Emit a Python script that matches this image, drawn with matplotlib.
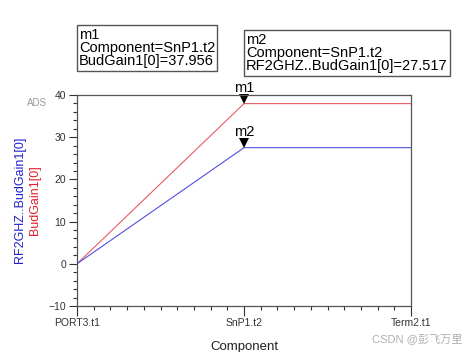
import matplotlib
matplotlib.use("Agg")
import matplotlib.pyplot as plt
from matplotlib.ticker import MultipleLocator
from matplotlib.transforms import offset_copy

plt.rcParams['font.family'] = ['Liberation Sans', 'Noto Sans CJK SC', 'DejaVu Sans']

components = ["PORT3.t1", "SnP1.t2", "Term2.t1"]
bud_gain = [0.0, 37.956, 37.956]
rf2ghz_bud_gain = [0.0, 27.517, 27.517]
marker_labels = ["m1", "m2"]

fig = plt.figure(figsize=(4.74, 3.52), dpi=100)
W, H = 474, 352
ax = fig.add_axes([77 / W, 1 - 306 / H, (411 - 77) / W, (306 - 95) / H])

x = list(range(len(components)))
ax.plot(x, bud_gain, color='#e85a64', lw=0.8)
ax.plot(x, rf2ghz_bud_gain, color='#5050e0', lw=0.8)

ax.set_xlim(0, 2)
ax.set_ylim(-10, 40)
ax.set_xticks(x)
ax.set_xticklabels(components)
ax.xaxis.set_minor_locator(MultipleLocator(0.1))
ax.yaxis.set_major_locator(MultipleLocator(10))
ax.yaxis.set_minor_locator(MultipleLocator(2))
ax.tick_params(axis='both', which='major', direction='out', length=6, width=0.8,
               labelsize=7.5, colors='#333333', pad=2)
ax.tick_params(axis='both', which='minor', direction='out', length=3, width=0.8, colors='#333333')
ax.tick_params(axis='x', which='major', length=7)
for s in ax.spines.values():
    s.set_color('#555555')
    s.set_linewidth(0.9)

# markers
tri_tr = offset_copy(ax.transData, fig=fig, x=0, y=3.2, units='points')
for lab, yv in zip(marker_labels, [bud_gain[1], rf2ghz_bud_gain[1]]):
    ax.plot([1], [yv], marker='v', color='black', markersize=6.5,
            transform=tri_tr, clip_on=False,
            markeredgewidth=0, linestyle='none')
    ax.annotate(lab, xy=(1, yv), xytext=(0, 6.5), textcoords='offset points',
                ha='center', va='bottom', fontsize=10.5, color='black',
                annotation_clip=False)

ax.set_xlabel("Component", fontsize=9.5, color='#222222', labelpad=9)

# y labels
fig.text(20 / W, 1 - 200 / H, "RF2GHZ..BudGain1[0]", rotation=90, color='#2020d0',
         fontsize=9, ha='center', va='center')
fig.text(35 / W, 1 - 200 / H, "BudGain1[0]", rotation=90, color='#e0202a',
         fontsize=9, ha='center', va='center')

fig.text(27 / W, 1 - 103 / H, "ADS", color='#999999', fontsize=7, ha='left', va='center')

# marker readout boxes
box = dict(boxstyle='square,pad=0.15', fc='white', ec='#555555', lw=1)
fig.text(79 / W, 1 - 48 / H,
         "m1\nComponent=SnP1.t2\nBudGain1[0]=%.3f" % bud_gain[1],
         fontsize=10.5, ha='left', va='center', linespacing=0.95, bbox=box)
fig.text(246 / W, 1 - 53 / H,
         "m2\nComponent=SnP1.t2\nRF2GHZ..BudGain1[0]=%.3f" % rf2ghz_bud_gain[1],
         fontsize=10.5, ha='left', va='center', linespacing=0.95, bbox=box)

fig.text(462 / W, 1 - 340 / H, "CSDN @彭飞万里", color='#b0b0b0', fontsize=8,
         ha='right', va='center')

fig.savefig("out.png", dpi=100)
